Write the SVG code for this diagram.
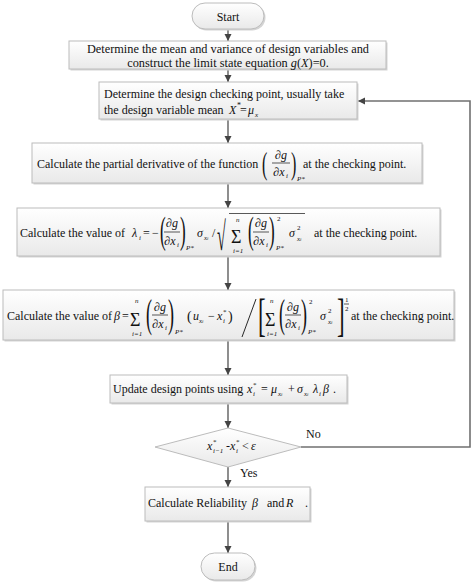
<svg xmlns="http://www.w3.org/2000/svg" width="474" height="584" viewBox="0 0 474 584">
<defs>
<linearGradient id="g" x1="0" y1="0" x2="0" y2="1"><stop offset="0" stop-color="#ffffff"/><stop offset="1" stop-color="#e9e9e9"/></linearGradient>
<marker id="a" markerUnits="userSpaceOnUse" markerWidth="8" markerHeight="8" refX="7" refY="3.5" orient="auto"><path d="M0,0 L7,3.5 L0,7 z" fill="#444"/></marker>
<style>
.t{font-family:"Liberation Serif","Times New Roman",serif;font-size:12px;fill:#111}
.i{font-style:italic}
.s{font-size:8px}
.xs{font-size:7px}
.xxs{font-size:5px}
.b1{font-size:12.3px}
.p32{font-size:32px}
.p38{font-size:38px}
.p40{font-size:40px}
.p46{font-size:46px}
.sig{font-size:18px}
.f14{font-size:14px}
.rad{font-size:20px}
.box{fill:url(#g);stroke:#bcbcbc;stroke-width:1}
.sh{fill:#d4d4d4}
.fb{stroke:#111;stroke-width:0.7}
.c{stroke:#444;stroke-width:1.2;fill:none;marker-end:url(#a)}
.lp{stroke:#707070;stroke-width:1.6;fill:none;marker-end:url(#a)}
</style>
</defs>
<rect width="474" height="584" fill="#fff"/>

<g id="connectors">
<path class="c" d="M228,29 V41"/>
<path class="c" d="M228,70 V82"/>
<path class="c" d="M228,120 V143"/>
<path class="c" d="M228,183 V208"/>
<path class="c" d="M228,257 V290"/>
<path class="c" d="M228,340 V375"/>
<path class="c" d="M228,403 V428"/>
<path class="c" d="M228,467 V487"/>
<path class="c" d="M228,521 V553"/>
<path class="lp" d="M301,447 H470 V101 H358"/>
<text class="t" x="306" y="438">No</text>
<text class="t" x="240" y="477">Yes</text>
</g>

<g id="start">
<rect class="sh" x="193.5" y="4.5" width="72" height="26" rx="13"/>
<rect class="box" x="192" y="3" width="72" height="26" rx="13"/>
<text class="t" x="228" y="20.5" text-anchor="middle">Start</text>
</g>

<g id="box1">
<rect class="sh" x="70.5" y="42.5" width="317" height="28"/>
<rect class="box" x="69" y="41" width="317" height="28"/>
<text class="t b1" x="228" y="53" text-anchor="middle">Determine the mean and variance of design variables and</text>
<text class="t b1" x="228" y="66.5" text-anchor="middle">construct the limit state equation <tspan class="i">g</tspan>(<tspan class="i">X</tspan>)=0.</text>
</g>

<g id="box2">
<rect class="sh" x="100.5" y="83.5" width="258" height="37"/>
<rect class="box" x="99" y="82" width="258" height="37"/>
<text class="t" x="104" y="97.5">Determine the design checking point, usually take</text>
<text class="t" x="104" y="114">the design variable mean</text>
<text class="t i" x="229" y="114">X</text>
<text class="t s" x="237" y="108">*</text>
<text class="t" x="240" y="114">=</text>
<text class="t i" x="248" y="114">μ</text>
<text class="t i xs" x="255" y="117">x</text>
</g>

<g id="box3">
<rect class="sh" x="33.5" y="144.5" width="390" height="40"/>
<rect class="box" x="32" y="143" width="390" height="40"/>
<text class="t" x="37" y="168">Calculate the partial derivative of the function</text>
<text class="t p32" transform="translate(262,174) scale(0.5,1)">(</text>
<text class="t" x="281" y="159" text-anchor="middle">∂<tspan class="i">g</tspan></text>
<line class="fb" x1="272" y1="163" x2="290" y2="163"/>
<text class="t" x="279" y="176" text-anchor="middle">∂<tspan class="i">x</tspan></text>
<text class="t i xs" x="286" y="178">i</text>
<text class="t p32" transform="translate(291,174) scale(0.5,1)">)</text>
<text class="t i xs" x="297" y="181">P*</text>
<text class="t" x="303" y="168">at the checking point.</text>
</g>

<g id="box4">
<rect class="sh" x="18.5" y="209.5" width="423" height="48"/>
<rect class="box" x="17" y="208" width="423" height="48"/>
<text class="t" x="20" y="237">Calculate the value of</text>
<text class="t i" x="132" y="237">λ</text>
<text class="t i xs" x="139" y="240">i</text>
<text class="t" x="143" y="237">=</text>
<text class="t" x="152" y="237">−</text>
<text class="t p38" transform="translate(160,243) scale(0.45,1)">(</text>
<text class="t" x="172" y="227" text-anchor="middle">∂<tspan class="i">g</tspan></text>
<line class="fb" x1="164" y1="232" x2="180" y2="232"/>
<text class="t" x="170" y="245" text-anchor="middle">∂<tspan class="i">x</tspan></text>
<text class="t i xs" x="177" y="247">i</text>
<text class="t p38" transform="translate(180,243) scale(0.45,1)">)</text>
<text class="t i xs" x="186" y="250">P*</text>
<text class="t i" x="197" y="237">σ</text>
<text class="t i xs" x="204" y="240">x<tspan class="xxs">i</tspan></text>
<text class="t" x="212" y="237">/</text>
<text class="t rad" transform="translate(217,250) scale(0.8,2)">√</text>
<line class="fb" x1="229" y1="213.5" x2="305" y2="213.5"/>
<text class="t sig" x="231" y="243">Σ</text>
<text class="t i xs" x="236" y="222">n</text>
<text class="t i xs" x="233" y="253">i=1</text>
<text class="t p38" transform="translate(248,243) scale(0.45,1)">(</text>
<text class="t" x="261" y="227" text-anchor="middle">∂<tspan class="i">g</tspan></text>
<line class="fb" x1="253" y1="232" x2="269" y2="232"/>
<text class="t" x="259" y="245" text-anchor="middle">∂<tspan class="i">x</tspan></text>
<text class="t i xs" x="266" y="247">i</text>
<text class="t p38" transform="translate(269,243) scale(0.45,1)">)</text>
<text class="t xs" x="277" y="221">2</text>
<text class="t i xs" x="276" y="250">P*</text>
<text class="t i" x="289" y="237">σ</text>
<text class="t xs" x="297" y="230">2</text>
<text class="t i xs" x="297" y="241">x<tspan class="xxs">i</tspan></text>
<text class="t" x="314" y="237">at the checking point.</text>
</g>

<g id="box5">
<rect class="sh" x="4.5" y="291.5" width="451" height="50"/>
<rect class="box" x="3" y="290" width="451" height="50"/>
<text class="t" x="7" y="320">Calculate the value of</text>
<text class="t i" x="114" y="320">β</text>
<text class="t" x="122" y="320">=</text>
<text class="t sig" x="130" y="326">Σ</text>
<text class="t i xs" x="135" y="303">n</text>
<text class="t i xs" x="132" y="336">i=1</text>
<text class="t p40" transform="translate(146,327) scale(0.45,1)">(</text>
<text class="t" x="160" y="311" text-anchor="middle">∂<tspan class="i">g</tspan></text>
<line class="fb" x1="152" y1="315" x2="168" y2="315"/>
<text class="t" x="158" y="328" text-anchor="middle">∂<tspan class="i">x</tspan></text>
<text class="t i xs" x="165" y="330">i</text>
<text class="t p40" transform="translate(168,327) scale(0.45,1)">)</text>
<text class="t i xs" x="175" y="334">P*</text>
<text class="t f14" x="187" y="321">(</text>
<text class="t i" x="193" y="320">u</text>
<text class="t i xs" x="199" y="323">x<tspan class="xxs">i</tspan></text>
<text class="t" x="208" y="320">−</text>
<text class="t i" x="217" y="320">x</text>
<text class="t xs" x="223" y="314">*</text>
<text class="t i xs" x="223" y="323">i</text>
<text class="t f14" x="228" y="321">)</text>
<line x1="242" y1="337" x2="256" y2="299" stroke="#111" stroke-width="0.9"/>
<text class="t p46" transform="translate(258,331) scale(0.5,1)">[</text>
<text class="t sig" x="265" y="326">Σ</text>
<text class="t i xs" x="270" y="303">n</text>
<text class="t i xs" x="267" y="336">i=1</text>
<text class="t p40" transform="translate(279,327) scale(0.45,1)">(</text>
<text class="t" x="293" y="311" text-anchor="middle">∂<tspan class="i">g</tspan></text>
<line class="fb" x1="285" y1="315" x2="301" y2="315"/>
<text class="t" x="291" y="328" text-anchor="middle">∂<tspan class="i">x</tspan></text>
<text class="t i xs" x="298" y="330">i</text>
<text class="t p40" transform="translate(301,327) scale(0.45,1)">)</text>
<text class="t xs" x="309" y="304">2</text>
<text class="t i xs" x="308" y="334">P*</text>
<text class="t i" x="320" y="320">σ</text>
<text class="t xs" x="328" y="313">2</text>
<text class="t i xs" x="328" y="324">x<tspan class="xxs">i</tspan></text>
<text class="t p46" transform="translate(337,331) scale(0.5,1)">]</text>
<text class="t xs" x="345" y="302">1</text>
<line class="fb" x1="344" y1="304" x2="349" y2="304"/>
<text class="t xs" x="345" y="311">2</text>
<text class="t" x="351" y="320">at the checking point.</text>
</g>

<g id="box6">
<rect class="sh" x="111.5" y="376.5" width="237" height="28"/>
<rect class="box" x="110" y="375" width="237" height="28"/>
<text class="t" x="113" y="393">Update design points using</text>
<text class="t i" x="247" y="393">x</text>
<text class="t xs" x="253" y="387">*</text>
<text class="t i xs" x="253" y="396">i</text>
<text class="t" x="261" y="393">=</text>
<text class="t i" x="271" y="393">μ</text>
<text class="t i xs" x="278" y="396">x<tspan class="xxs">i</tspan></text>
<text class="t" x="288" y="393">+</text>
<text class="t i" x="297" y="393">σ</text>
<text class="t i xs" x="304" y="396">x<tspan class="xxs">i</tspan></text>
<text class="t i" x="313" y="393">λ</text>
<text class="t i xs" x="319" y="396">i</text>
<text class="t i" x="323" y="393">β</text>
<text class="t" x="333" y="393">.</text>
</g>

<g id="decision">
<polygon points="228,428 301,447 228,467 155,447" fill="url(#g)" stroke="#bcbcbc" stroke-width="1"/>
<text class="t i" x="207" y="450">x</text>
<text class="t xs" x="213" y="444">*</text>
<text class="t i xs" x="213" y="453">i−1</text>
<text class="t" x="226" y="450">-</text>
<text class="t i" x="230" y="450">x</text>
<text class="t xs" x="236" y="444">*</text>
<text class="t i xs" x="236" y="453">i</text>
<text class="t" x="242" y="450">&lt;</text>
<text class="t i" x="251" y="450">ε</text>
</g>

<g id="box7">
<rect class="sh" x="146.5" y="488.5" width="165" height="34"/>
<rect class="box" x="145" y="487" width="165" height="34"/>
<text class="t" x="148" y="507">Calculate Reliability</text>
<text class="t i" x="252" y="507">β</text>
<text class="t" x="267" y="507">and</text>
<text class="t i" x="286" y="507">R</text>
<text class="t" x="305" y="507">.</text>
</g>

<g id="end">
<rect class="sh" x="202.5" y="554.5" width="54" height="27" rx="13.5"/>
<rect class="box" x="201" y="553" width="54" height="27" rx="13.5"/>
<text class="t" x="228" y="571" text-anchor="middle">End</text>
</g>
</svg>
